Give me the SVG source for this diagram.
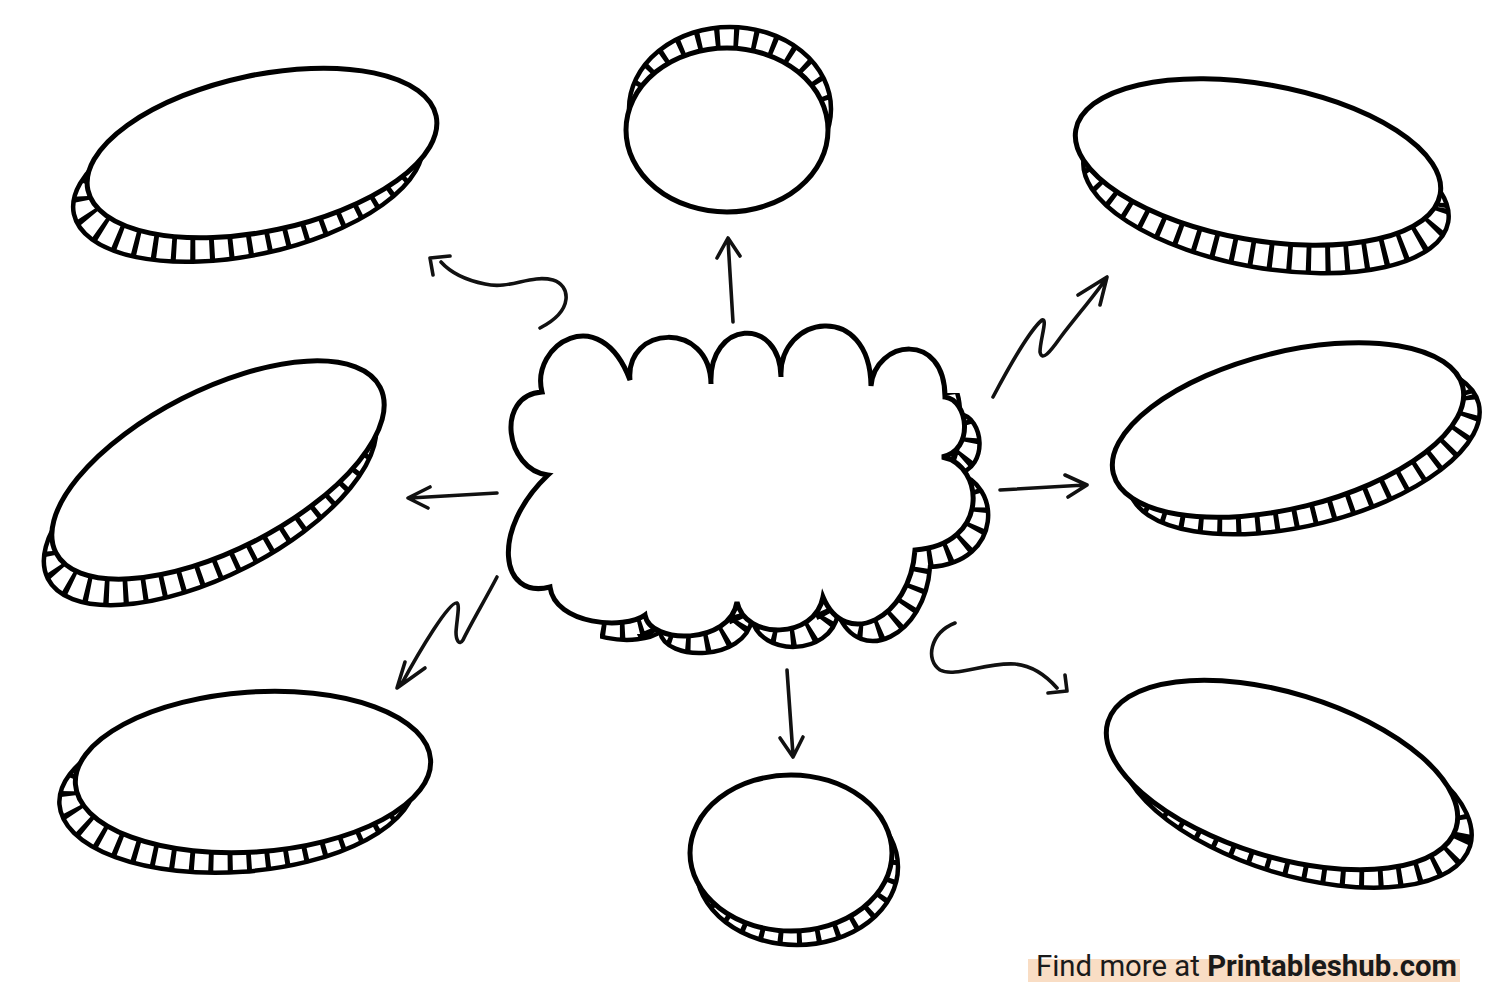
<svg xmlns="http://www.w3.org/2000/svg" xmlns:xlink="http://www.w3.org/1999/xlink" width="1500" height="1000" viewBox="0 0 1500 1000">
<style>
.face{fill:#fff;stroke:#000;stroke-width:5}
.rim{fill:none;stroke:#000;stroke-width:4.5}
.hatch{fill:none;stroke:#000;stroke-width:36;stroke-dasharray:5 14}
.conn{fill:none;stroke:#111;stroke-width:3.6;stroke-linecap:round;stroke-linejoin:round}
.foot{font-family:Roboto,"Liberation Sans",sans-serif;font-size:29px;fill:#1a1a1a}
</style>
<defs>
<path id="cloudPath" d="M542 392 C530 345 600 300 630 380 C625 325 710 320 711 384 C708 320 780 315 781 377 C778 315 870 300 871 386 C875 340 945 330 945 397 C968 400 975 450 942 457 C985 465 990 545 915 550 C910 620 845 650 823 597 C815 640 745 640 737 602 C730 645 650 645 645 615 C625 630 555 625 550 587 C500 600 490 530 548 475 C505 470 495 395 542 392 Z"/>
<clipPath id="cCloud"><use xlink:href="#cloudPath" transform="translate(15,17)"/></clipPath>
<clipPath id="cCloudArea"><path d="M600 600 L940 393 L1030 393 L1030 700 L600 700 Z"/></clipPath>
<clipPath id="c1"><ellipse cx="0" cy="0" rx="178" ry="78" transform="translate(248,177) rotate(-12)"/></clipPath>
<clipPath id="c2"><ellipse cx="0" cy="0" rx="101" ry="82" transform="translate(730,109)"/></clipPath>
<clipPath id="c3"><ellipse cx="0" cy="0" rx="185" ry="78" transform="translate(1266,190) rotate(10)"/></clipPath>
<clipPath id="c4"><ellipse cx="0" cy="0" rx="182" ry="80" transform="translate(210,496) rotate(-27)"/></clipPath>
<clipPath id="c5"><ellipse cx="0" cy="0" rx="180" ry="78" transform="translate(1304,447) rotate(-14)"/></clipPath>
<clipPath id="c6"><ellipse cx="0" cy="0" rx="178" ry="80" transform="translate(237,792) rotate(-4)"/></clipPath>
<clipPath id="c7"><ellipse cx="0" cy="0" rx="182" ry="82" transform="translate(1296,793) rotate(17)"/></clipPath>
<clipPath id="c8"><ellipse cx="0" cy="0" rx="101" ry="78" transform="translate(797,867)"/></clipPath>
</defs>
<rect width="1500" height="1000" fill="#fff"/>

<g id="node-cloud">
  <g clip-path="url(#cCloudArea)">
    <g clip-path="url(#cCloud)"><use xlink:href="#cloudPath" class="hatch" transform="translate(7.5,8.5)"/></g>
    <use xlink:href="#cloudPath" class="rim" transform="translate(15,17)"/>
  </g>
  <use xlink:href="#cloudPath" class="face"/>
</g>

<g id="node-1">
  <g clip-path="url(#c1)"><ellipse class="hatch" rx="178" ry="78" transform="translate(255,165) rotate(-12)"/></g>
  <ellipse class="rim" rx="178" ry="78" transform="translate(248,177) rotate(-12)"/>
  <ellipse class="face" rx="178" ry="78" transform="translate(262,153) rotate(-12)"/>
</g>
<g id="node-2">
  <g clip-path="url(#c2)"><ellipse class="hatch" rx="101" ry="82" transform="translate(728.5,119.5)"/></g>
  <ellipse class="rim" rx="101" ry="82" transform="translate(730,109)"/>
  <ellipse class="face" rx="101" ry="82" transform="translate(727,130)"/>
</g>
<g id="node-3">
  <g clip-path="url(#c3)"><ellipse class="hatch" rx="185" ry="78" transform="translate(1262,176) rotate(10)"/></g>
  <ellipse class="rim" rx="185" ry="78" transform="translate(1266,190) rotate(10)"/>
  <ellipse class="face" rx="185" ry="78" transform="translate(1258,162) rotate(10)"/>
</g>
<g id="node-4">
  <g clip-path="url(#c4)"><ellipse class="hatch" rx="182" ry="80" transform="translate(214,483) rotate(-27)"/></g>
  <ellipse class="rim" rx="182" ry="80" transform="translate(210,496) rotate(-27)"/>
  <ellipse class="face" rx="182" ry="80" transform="translate(218,470) rotate(-27)"/>
</g>
<g id="node-5">
  <g clip-path="url(#c5)"><ellipse class="hatch" rx="180" ry="78" transform="translate(1296,438.5) rotate(-14)"/></g>
  <ellipse class="rim" rx="180" ry="78" transform="translate(1304,447) rotate(-14)"/>
  <ellipse class="face" rx="180" ry="78" transform="translate(1288,430) rotate(-14)"/>
</g>
<g id="node-6">
  <g clip-path="url(#c6)"><ellipse class="hatch" rx="178" ry="80" transform="translate(245,782) rotate(-4)"/></g>
  <ellipse class="rim" rx="178" ry="80" transform="translate(237,792) rotate(-4)"/>
  <ellipse class="face" rx="178" ry="80" transform="translate(253,772) rotate(-4)"/>
</g>
<g id="node-7">
  <g clip-path="url(#c7)"><ellipse class="hatch" rx="182" ry="82" transform="translate(1289,784) rotate(17)"/></g>
  <ellipse class="rim" rx="182" ry="82" transform="translate(1296,793) rotate(17)"/>
  <ellipse class="face" rx="182" ry="82" transform="translate(1282,775) rotate(17)"/>
</g>
<g id="node-8">
  <g clip-path="url(#c8)"><ellipse class="hatch" rx="101" ry="78" transform="translate(794,860)"/></g>
  <ellipse class="rim" rx="101" ry="78" transform="translate(797,867)"/>
  <ellipse class="face" rx="101" ry="78" transform="translate(791,853)"/>
</g>

<g id="connectors">
  <path class="conn" d="M733 322 L728 240 M717 258 L728 238 L740 256"/>
  <path class="conn" d="M540 328 C575 310 570 285 553 280 C530 274 510 290 485 284 C465 280 450 272 441 262 M433 275 L430 258 L450 256"/>
  <path class="conn" d="M497 493 L410 498 M430 487 L408 498 L428 508"/>
  <path class="conn" d="M497 577 C485 600 470 625 463 640 C459 646 456 640 456 632 C457 618 460 605 457 603 C450 600 420 650 401 685 M405 662 L397 688 L425 668"/>
  <path class="conn" d="M787 670 L793 755 M780 738 L793 757 L803 737"/>
  <path class="conn" d="M955 623 C930 633 925 660 940 670 C955 678 985 662 1015 664 C1035 666 1050 680 1057 688 M1065 675 L1067 691 L1048 693"/>
  <path class="conn" d="M1000 490 L1085 485 M1065 475 L1087 485 L1068 497"/>
  <path class="conn" d="M993 397 C1010 365 1030 330 1042 320 C1048 318 1040 340 1040 352 C1042 362 1050 352 1060 338 C1075 318 1095 295 1105 280 M1078 295 L1107 277 L1100 305"/>
</g>

<g id="footer">
  <rect x="1028" y="959" width="432" height="23" fill="#f9ddc4"/>
  <text class="foot" x="1036" y="976" textLength="421" lengthAdjust="spacingAndGlyphs">Find more at <tspan font-weight="bold">Printableshub.com</tspan></text>
</g>
</svg>
